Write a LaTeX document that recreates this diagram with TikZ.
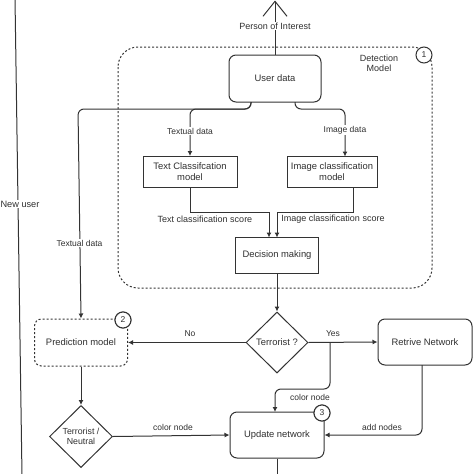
\documentclass[tikz,border=0pt]{standalone}
\usepackage{fontspec}
\setmainfont{Liberation Sans}
\usetikzlibrary{arrows.meta,shapes.geometric}
\definecolor{ln}{HTML}{333333}
\definecolor{tx}{HTML}{303030}
\begin{document}
\begin{tikzpicture}[x=1pt,y=-1pt,
  every node/.style={text=tx},
  base/.style={draw=ln,line width=1pt,fill=white,inner sep=1pt,align=center,font=\fontsize{9.4}{11}\selectfont},
  sqbox/.style={base},
  rbox/.style={base,rounded corners=7pt},
  dbox/.style={base,rounded corners=7pt,dash pattern=on 2pt off 2pt},
  dia/.style={base,diamond,inner sep=0pt},
  circ/.style={draw=ln,line width=1pt,fill=white,circle,inner sep=0pt,minimum size=16pt,font=\fontsize{8.5}{10}\selectfont},
  lbl/.style={fill=white,inner sep=1pt,font=\fontsize{8.5}{10}\selectfont},
  slbl/.style={inner sep=1pt,font=\fontsize{9}{10}\selectfont},
  conn/.style={draw=ln,line width=1pt},
  arr/.style={conn,-{Latex[length=5pt,width=5pt]}},
]
\useasboundingbox[fill=white] (0,0) rectangle (474,474);

% detection model container
\draw[ln,line width=1pt,dash pattern=on 2pt off 2pt,rounded corners=20pt] (118,47) rectangle (432,288);
\node[slbl,align=center] (detlbl) at (379,63) {Detection\\Model};
\node[circ] (c1) at (424,55) {1};

% new user line
\coordinate (nu1) at (15,-2);
\coordinate (nu2) at (22,476);
\draw[conn] (nu1) -- (nu2);
\node[fill=white,inner sep=1pt,font=\fontsize{9.2}{11}\selectfont] (newuser) at (20,204) {New user};

% nodes
\node[rbox,minimum width=92pt,minimum height=47pt] (user) at (275,78.5) {User data};
\node[sqbox,minimum width=94pt,minimum height=31pt] (textcls) at (190,172) {Text Classifcation\\model};
\node[sqbox,minimum width=90pt,minimum height=31pt] (imgcls) at (332,172) {Image classification\\model};
\node[sqbox,minimum width=83pt,minimum height=36pt] (decision) at (277,255.5) {Decision making};
\node[dia,minimum width=62pt,minimum height=61pt] (terr) at (277,342.5) {Terrorist ?};
\node[dbox,minimum width=93pt,minimum height=47pt] (pred) at (81,342.5) {Prediction model};
\node[rbox,minimum width=94pt,minimum height=46pt] (retr) at (425,342) {Retrive Network};
\node[rbox,minimum width=94pt,minimum height=46pt] (upd) at (277,435) {Update network};
\node[dia,minimum width=63pt,minimum height=62pt,font=\fontsize{8.8}{10.5}\selectfont] (tn) at (81,436.5) {Terrorist /\\Neutral};

\node[circ] (c2) at (123,320) {2};
\node[circ] (c3) at (322,413) {3};

% top arrow
\coordinate (top) at (275,0.5);
\draw[conn,-{Straight Barb[length=15pt,width=24pt]}] (user.north) -- (top);
\node[lbl,font=\fontsize{9}{10}\selectfont] (poi) at (275,26) {Person of Interest};

% user data outputs
\coordinate (uL) at (251,102);
\coordinate (uR) at (295,102);
\coordinate (pTop) at (78,109);
\draw[arr,rounded corners=6pt] (uL) |- (pTop) -- (pred.north);
\draw[arr,rounded corners=6pt] (uL) |- (190,109) -- (textcls.north);
\draw[arr,rounded corners=6pt] (uR) |- (345,109) -- (345,156.5);
\node[lbl] (tdl) at (190,131) {Textual data};
\node[lbl] (idl) at (345,130) {Image data};
\node[lbl] (tdl2) at (79.5,243) {Textual data};

% scores
\draw[arr] (textcls.south) |- (269,212) -- (269,237.5);
\draw[arr] (353,187.5) |- (277,212) -- (277,237.5);
\node[slbl] (tcs) at (205,219) {Text classification score};
\node[slbl] (ics) at (333,219) {Image classification score};

% decision to terrorist
\draw[arr] (decision.south) -- (terr.north);

% No / Yes
\draw[arr] (terr.west) -- (pred.east);
\node[slbl,font=\fontsize{8.5}{10}\selectfont] (no) at (190,334) {No};
\draw[arr] (terr.east) -- (retr.west);
\node[slbl,font=\fontsize{8.5}{10}\selectfont] (yes) at (333,334) {Yes};
\coordinate (ysplit) at (330,342.5);
\draw[arr,rounded corners=6pt] (ysplit) |- (275,389) -- (275,412);
\node[slbl,font=\fontsize{8.5}{10}\selectfont] (cn1) at (310,397) {color node};

% retrive to update
\draw[arr,rounded corners=6pt] (422,365) |- (upd.east);
\node[slbl,font=\fontsize{8.5}{10}\selectfont] (addn) at (382,427) {add nodes};

% prediction side
\draw[arr] (pred.south) -- (tn.north);
\draw[arr] (tn.east) -- (upd.west);
\node[slbl,font=\fontsize{8.5}{10}\selectfont] (cn2) at (173,427) {color node};

% update down
\coordinate (bot) at (277,476);
\draw[conn] (upd.south) -- (bot);

\node[circ] at (c2) {2};
\node[circ] at (c3) {3};
\end{tikzpicture}
\end{document}
